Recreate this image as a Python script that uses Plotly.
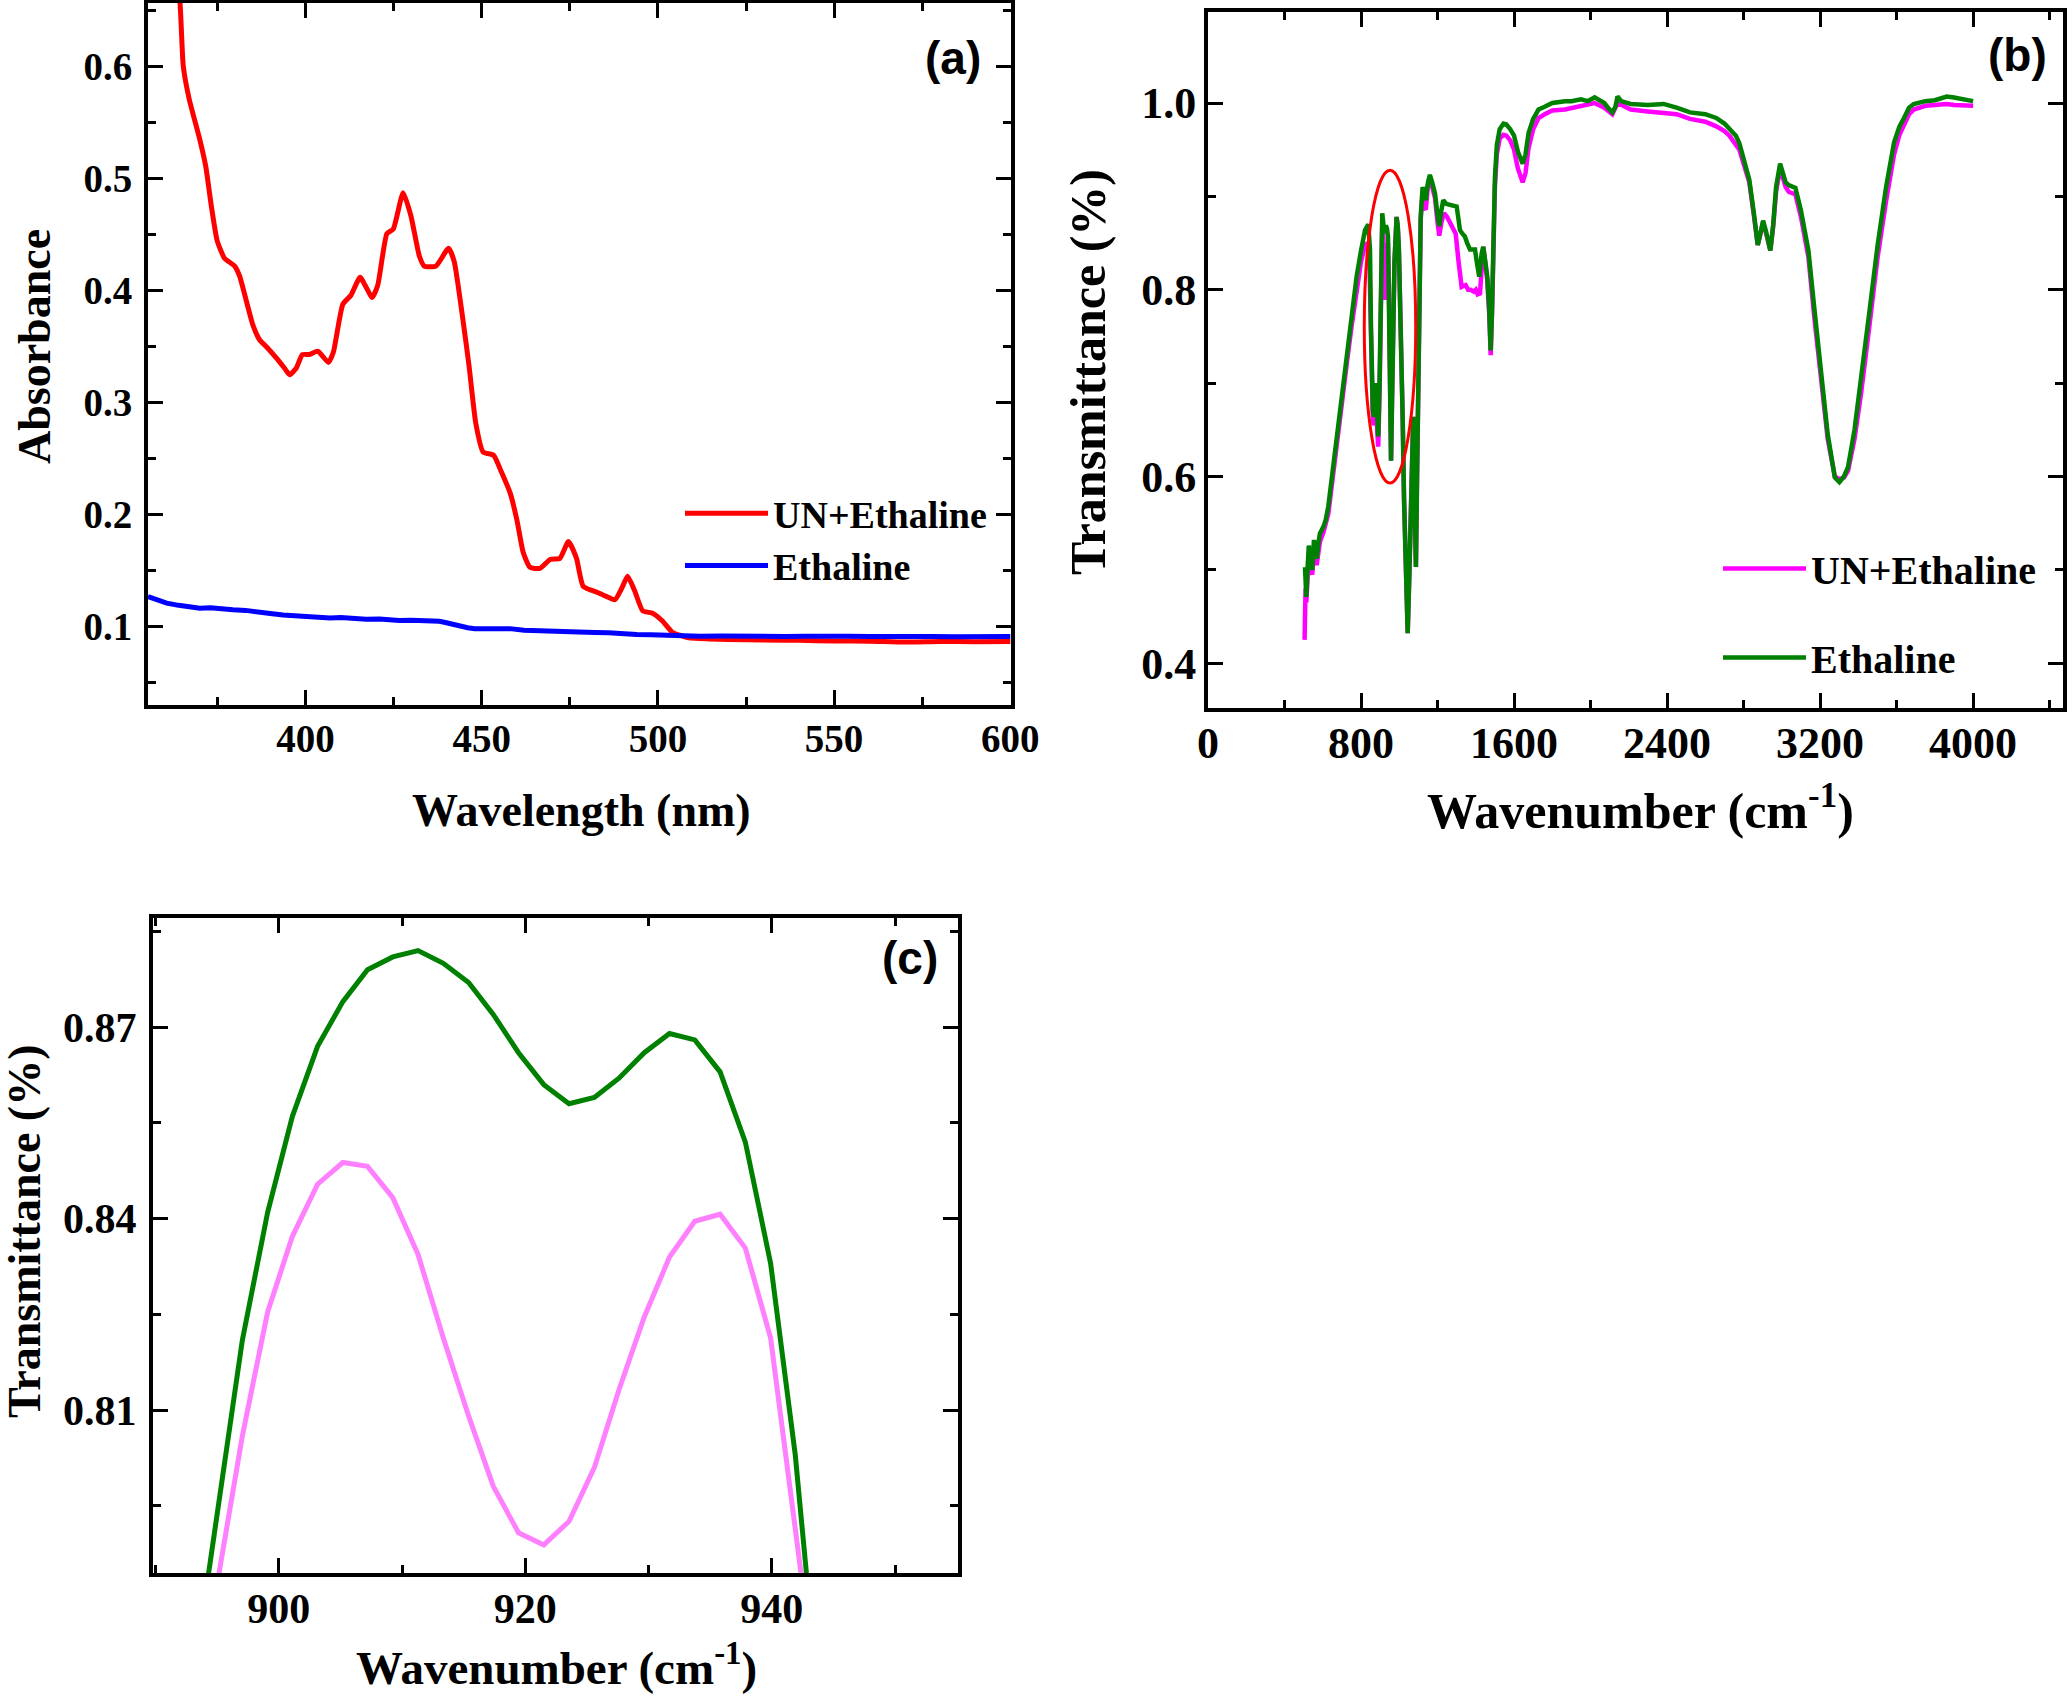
import plotly.graph_objects as go

# ---------------- Panel (a): UV-Vis absorbance ----------------
wl_un = [356, 360, 364.3, 365.3, 367.0, 370.0, 371.7, 373.3, 374.9, 377.0, 379.9, 381.3, 383.2,
         385.1, 387.0, 388.9, 391.7, 394.0, 395.5, 397.4, 399.1, 401.1, 403.5, 406.5, 407.9,
         410.6, 412.9, 415.5, 418.9, 420.5, 423.1, 424.9, 427.7, 429.9, 432.3, 433.7, 437.0,
         440.6, 442.2, 444.5, 446.4, 448.3, 450.4, 453.4, 455.6, 458.1, 460.0, 461.8, 463.7,
         466.5, 469.4, 472.2, 474.6, 476.9, 478.8, 482.5, 485.3, 487.8, 489.7, 491.4, 493.4,
         495.7, 498.5, 501.3, 504.1, 508.8, 514.5, 520, 530, 540, 550, 560, 570, 580, 590, 600]
abs_un = [0.88, 0.76, 0.661, 0.601, 0.571, 0.535, 0.511, 0.475, 0.445, 0.429, 0.422, 0.413, 0.391,
          0.369, 0.356, 0.350, 0.340, 0.331, 0.325, 0.331, 0.343, 0.343, 0.346, 0.336, 0.345,
          0.388, 0.396, 0.412, 0.394, 0.405, 0.451, 0.455, 0.4875, 0.467, 0.431, 0.422, 0.422,
          0.438, 0.426, 0.378, 0.333, 0.282, 0.256, 0.253, 0.238, 0.219, 0.195, 0.166, 0.153,
          0.152, 0.160, 0.161, 0.176, 0.161, 0.136, 0.131, 0.127, 0.124, 0.134, 0.145, 0.132,
          0.114, 0.112, 0.105, 0.095, 0.090, 0.089, 0.0885, 0.088, 0.0878, 0.0872, 0.087, 0.0862,
          0.0868, 0.0866, 0.0868]

wl_eth = [355.3, 358, 360.6, 364, 367, 370, 373, 376, 379.4, 383, 386, 390, 393.6, 397, 400,
          403, 407, 410, 413, 417.2, 421, 424, 426.6, 430, 433, 436, 438, 440, 442, 444, 446,
          448, 451, 455, 458, 462, 466, 470, 474, 478, 482, 486, 490, 494, 498, 502, 506, 512,
          518, 524, 530, 536, 542, 548, 554, 560, 566, 572, 578, 584, 590, 595, 600]
abs_eth = [0.1268, 0.1235, 0.121, 0.119, 0.118, 0.1164, 0.1168, 0.1155, 0.115, 0.1145, 0.1138,
           0.1118, 0.1104, 0.1098, 0.1085, 0.1084, 0.1078, 0.1082, 0.1072, 0.1066, 0.1068,
           0.1060, 0.1054, 0.1058, 0.1052, 0.1055, 0.1048, 0.1035, 0.1018, 0.1000, 0.0990,
           0.0982, 0.0985, 0.0978, 0.0982, 0.0968, 0.0962, 0.0958, 0.0955, 0.0952, 0.0948,
           0.0945, 0.0935, 0.0930, 0.0928, 0.0922, 0.0918, 0.0915, 0.0917, 0.0913, 0.0916,
           0.0912, 0.0915, 0.0910, 0.0913, 0.0912, 0.0915, 0.0908, 0.0912, 0.0910, 0.0914,
           0.0911, 0.0912]

# ---------------- Panel (b): FTIR transmittance ----------------
wn_eth_b = [507, 510, 514, 520, 527, 537, 545, 554, 562, 568, 578, 585, 603, 615, 629, 645, 664,
            695, 725, 750, 777, 800, 821, 838, 847, 852, 856, 862, 868, 873, 878, 883, 890, 897,
            903, 911, 916, 922, 930, 936, 941, 946, 951, 957, 962, 966, 975, 986, 992, 998, 1005,
            1012, 1018, 1025, 1035, 1044, 1052, 1061, 1067, 1073, 1080, 1087, 1093, 1099, 1106,
            1112, 1122, 1130, 1138, 1150, 1160, 1172, 1187, 1200, 1209, 1220, 1230, 1245, 1261,
            1280, 1300, 1310, 1317, 1330, 1343, 1355, 1370, 1385, 1396, 1405, 1418, 1430, 1439,
            1450, 1460, 1470, 1478, 1485, 1492, 1500, 1510, 1525, 1545, 1560, 1580, 1600, 1620,
            1645, 1660, 1676, 1700, 1728, 1760, 1800, 1866, 1900, 1950, 1985, 2021, 2050, 2072,
            2095, 2114, 2130, 2141, 2160, 2210, 2300, 2382, 2450, 2520, 2600, 2657, 2700, 2726,
            2760, 2778, 2800, 2830, 2855, 2874, 2888, 2902, 2918, 2940, 2955, 2970, 2991, 3005,
            3020, 3036, 3071, 3100, 3139, 3170, 3208, 3240, 3277, 3301, 3325, 3346, 3380, 3415,
            3460, 3501, 3545, 3587, 3615, 3639, 3665, 3690, 3750, 3800, 3828, 3862, 3900, 3950,
            4000]
tr_eth_b = [0.503, 0.485, 0.471, 0.500, 0.526, 0.510, 0.500, 0.532, 0.520, 0.512, 0.530, 0.539,
            0.546, 0.553, 0.568, 0.595, 0.628, 0.683, 0.735, 0.775, 0.814, 0.842, 0.864, 0.870,
            0.843, 0.760, 0.700, 0.670, 0.664, 0.690, 0.700, 0.670, 0.643, 0.700, 0.820, 0.882,
            0.872, 0.861, 0.869, 0.865, 0.857, 0.800, 0.735, 0.617, 0.680, 0.735, 0.830, 0.878,
            0.868, 0.843, 0.790, 0.735, 0.660, 0.575, 0.480, 0.432, 0.490, 0.557, 0.620, 0.664,
            0.580, 0.503, 0.600, 0.700, 0.800, 0.878, 0.910, 0.903, 0.896, 0.915, 0.923, 0.915,
            0.903, 0.880, 0.868, 0.885, 0.896, 0.892, 0.891, 0.890, 0.889, 0.875, 0.864, 0.860,
            0.857, 0.850, 0.843, 0.843, 0.843, 0.830, 0.814, 0.838, 0.846, 0.830, 0.814, 0.780,
            0.735, 0.780, 0.850, 0.920, 0.955, 0.972, 0.978, 0.977, 0.972, 0.965, 0.948, 0.935,
            0.945, 0.968, 0.983, 0.993, 0.996, 1.000, 1.002, 1.002, 1.004, 1.002, 1.006, 1.003,
            1.000, 0.994, 0.990, 0.996, 1.007, 1.002, 0.999, 0.998, 0.999, 0.995, 0.990, 0.988,
            0.984, 0.978, 0.973, 0.965, 0.957, 0.940, 0.918, 0.880, 0.848, 0.860, 0.874, 0.862,
            0.842, 0.870, 0.910, 0.935, 0.925, 0.915, 0.912, 0.909, 0.885, 0.842, 0.780, 0.703,
            0.645, 0.599, 0.594, 0.600, 0.610, 0.650, 0.703, 0.780, 0.848, 0.910, 0.958, 0.975,
            0.984, 0.995, 0.999, 1.002, 1.003, 1.005, 1.007, 1.006, 1.004, 1.002]

wn_un_b = [505, 507, 510, 514, 520, 527, 537, 545, 554, 568, 585, 603, 629, 664, 695, 725, 750,
           777, 800, 821, 835, 845, 852, 856, 862, 868, 873, 878, 883, 890, 897, 903, 911, 916,
           922, 926, 930, 936, 941, 946, 951, 957, 962, 966, 975, 986, 992, 998, 1005, 1012, 1018,
           1025, 1035, 1044, 1052, 1061, 1067, 1073, 1080, 1087, 1093, 1099, 1106, 1112, 1122,
           1130, 1139, 1150, 1160, 1172, 1187, 1200, 1209, 1220, 1234, 1250, 1278, 1295, 1310,
           1326, 1347, 1360, 1373, 1390, 1400, 1410, 1422, 1432, 1439, 1450, 1460, 1470, 1478,
           1485, 1492, 1500, 1510, 1525, 1545, 1560, 1580, 1600, 1620, 1645, 1660, 1676, 1700,
           1728, 1760, 1800, 1866, 1950, 2021, 2072, 2114, 2141, 2210, 2300, 2382, 2450, 2520,
           2600, 2657, 2700, 2726, 2778, 2800, 2830, 2855, 2874, 2888, 2902, 2918, 2940, 2955,
           2970, 2991, 3005, 3020, 3036, 3071, 3100, 3139, 3170, 3208, 3240, 3277, 3301, 3325,
           3346, 3380, 3415, 3460, 3501, 3545, 3587, 3615, 3639, 3665, 3690, 3750, 3800, 3862,
           3900, 3950, 4000]
tr_un_b = [0.425, 0.440, 0.480, 0.465, 0.490, 0.515, 0.500, 0.495, 0.520, 0.505, 0.530, 0.540,
           0.560, 0.615, 0.668, 0.720, 0.760, 0.800, 0.830, 0.848, 0.850, 0.820, 0.750, 0.690,
           0.660, 0.655, 0.680, 0.690, 0.655, 0.632, 0.690, 0.810, 0.870, 0.860, 0.800, 0.789,
           0.810, 0.840, 0.850, 0.800, 0.735, 0.617, 0.680, 0.735, 0.830, 0.878, 0.868, 0.843,
           0.790, 0.735, 0.660, 0.575, 0.480, 0.432, 0.490, 0.557, 0.620, 0.664, 0.580, 0.503,
           0.600, 0.700, 0.800, 0.875, 0.905, 0.888, 0.886, 0.912, 0.920, 0.912, 0.898, 0.872,
           0.858, 0.872, 0.882, 0.878, 0.868, 0.860, 0.830, 0.803, 0.805, 0.800, 0.800, 0.798,
           0.800, 0.795, 0.796, 0.835, 0.846, 0.828, 0.810, 0.775, 0.730, 0.775, 0.845, 0.910,
           0.945, 0.962, 0.966, 0.965, 0.960, 0.950, 0.930, 0.915, 0.925, 0.952, 0.972, 0.984,
           0.988, 0.992, 0.993, 0.997, 1.000, 0.995, 0.988, 1.000, 0.993, 0.991, 0.990, 0.988,
           0.983, 0.980, 0.975, 0.970, 0.965, 0.950, 0.935, 0.915, 0.878, 0.848, 0.860, 0.872,
           0.860, 0.842, 0.868, 0.905, 0.930, 0.920, 0.910, 0.905, 0.902, 0.878, 0.835, 0.770,
           0.695, 0.640, 0.600, 0.597, 0.599, 0.606, 0.640, 0.690, 0.765, 0.835, 0.895, 0.945,
           0.966, 0.978, 0.988, 0.993, 0.997, 0.998, 0.999, 0.998, 0.998, 0.997]

# highlighted region (ellipse) in panel (b)
ellipse_x = [817, 1086]
ellipse_y = [0.593, 0.928]

# ---------------- Panel (c): zoom of 890-950 cm-1 ----------------
wn_c = [893.0, 895.0, 897.05, 899.1, 901.1, 903.15, 905.2, 907.2, 909.25, 911.3, 913.35, 915.4,
        917.4, 919.45, 921.5, 923.55, 925.6, 927.6, 929.65, 931.7, 933.75, 935.8, 937.85, 939.9,
        941.9, 944.0]
tr_eth_c = [0.767, 0.794, 0.821, 0.841, 0.856, 0.867, 0.874, 0.879, 0.881, 0.882, 0.880, 0.877,
            0.872, 0.866, 0.861, 0.858, 0.859, 0.862, 0.866, 0.869, 0.868, 0.863, 0.852, 0.833,
            0.803, 0.760]
tr_un_c = [0.760, 0.783, 0.806, 0.8254, 0.8372, 0.8454, 0.8488, 0.8482, 0.8433, 0.8344, 0.8213,
           0.8091, 0.7981, 0.7908, 0.7889, 0.7926, 0.8010, 0.8132, 0.8246, 0.8340, 0.8396,
           0.8407, 0.8354, 0.8213, 0.792, 0.760]

SERIF = "Liberation Serif"
SANS = "Liberation Sans"
W, H = 2072, 1696


def px(x):
    return x / W


def py(y):
    return 1 - y / H


fig = go.Figure()

fig.add_trace(go.Scatter(x=wl_un, y=abs_un, mode="lines", name="UN+Ethaline",
                         line=dict(color="#FF0000", width=5, shape="spline", smoothing=0.5),
                         xaxis="x", yaxis="y", legend="legend"))
fig.add_trace(go.Scatter(x=wl_eth, y=abs_eth, mode="lines", name="Ethaline",
                         line=dict(color="#0000FF", width=5),
                         xaxis="x", yaxis="y", legend="legend"))

fig.add_trace(go.Scatter(x=wn_un_b, y=tr_un_b, mode="lines", name="UN+Ethaline",
                         line=dict(color="#FF00FF", width=4.5),
                         xaxis="x2", yaxis="y2", legend="legend2", legendgroup="g1"))
fig.add_trace(go.Scatter(x=wn_eth_b, y=tr_eth_b, mode="lines", name="Ethaline",
                         line=dict(color="#008000", width=4.5),
                         xaxis="x2", yaxis="y2", legend="legend2", legendgroup="g2"))

fig.add_trace(go.Scatter(x=wn_c, y=tr_un_c, mode="lines", name="UN+Ethaline",
                         line=dict(color="#FF80FF", width=5),
                         xaxis="x3", yaxis="y3", showlegend=False))
fig.add_trace(go.Scatter(x=wn_c, y=tr_eth_c, mode="lines", name="Ethaline",
                         line=dict(color="#008000", width=5),
                         xaxis="x3", yaxis="y3", showlegend=False))

fig.add_shape(type="circle", xref="x2", yref="y2",
              x0=ellipse_x[0], x1=ellipse_x[1], y0=ellipse_y[0], y1=ellipse_y[1],
              line=dict(color="#FF0000", width=3))


def axis(domain, rng, dtick, minor_dtick, size, anchor, standoff, tick0=None, fmt=None):
    d = dict(domain=domain, range=rng, dtick=dtick, showgrid=False, zeroline=False,
             showline=True, linewidth=4, linecolor="black", mirror="allticks",
             ticks="inside", ticklen=15, tickwidth=3, tickcolor="black",
             tickfont=dict(family=SERIF, size=size, color="black", weight="bold"),
             minor=dict(ticks="inside", ticklen=8, tickwidth=3, tickcolor="black",
                        dtick=minor_dtick, showgrid=False),
             anchor=anchor, ticklabelstandoff=standoff, automargin=False, fixedrange=True)
    if tick0 is not None:
        d["tick0"] = tick0
    if fmt is not None:
        d["tickformat"] = fmt
    return d


layout = dict(
    width=W, height=H, autosize=False,
    margin=dict(l=0, r=0, t=0, b=0),
    plot_bgcolor="white", paper_bgcolor="white",
    xaxis=axis([px(148), px(1011)], [355.3, 600.2], 50, 25, 39, "y", -4, tick0=0),
    yaxis=axis([py(705), py(3)], [0.03, 0.657], 0.1, 0.05, 39, "x", 4, tick0=0, fmt=".1f"),
    xaxis2=axis([px(1208), px(2063)], [0, 4470], 800, 400, 44, "y2", -7, tick0=0),
    yaxis2=axis([py(708), py(12)], [0.352, 1.0975], 0.2, 0.1, 44, "x2", -1, tick0=0, fmt=".1f"),
    xaxis3=axis([px(153), px(958)], [889.8, 955.1], 20, 10, 42, "y3", -4, tick0=900),
    yaxis3=axis([py(1573), py(918)], [0.7845, 0.8871], 0.03, 0.015, 42, "x3", 4,
                tick0=0.81, fmt=".2f"),
    legend=dict(x=px(680), y=py(482), xanchor="left", yanchor="top",
                font=dict(family=SERIF, size=38, color="black", weight="bold"),
                itemwidth=83, bgcolor="rgba(0,0,0,0)", borderwidth=0, tracegroupgap=0),
    legend2=dict(x=px(1718), y=py(536), xanchor="left", yanchor="top",
                 font=dict(family=SERIF, size=40, color="black", weight="bold"),
                 itemwidth=83, bgcolor="rgba(0,0,0,0)", borderwidth=0, tracegroupgap=34),
    showlegend=True,
)
fig.update_layout(**layout)

title_font = lambda s: dict(family=SERIF, size=s, color="black", weight="bold")
annos = [
    dict(text="Wavelength (nm)", x=px(581), y=py(810), font=title_font(46), textangle=0),
    dict(text="Absorbance", x=px(34), y=py(347), font=title_font(46), textangle=-90),
    dict(text="Wavenumber (cm<sup>-1</sup>)", x=px(1640), y=py(808), font=title_font(50), textangle=0),
    dict(text="Transmittance (%)", x=px(1088), y=py(372), font=title_font(50), textangle=-90),
    dict(text="Wavenumber (cm<sup>-1</sup>)", x=px(556), y=py(1664), font=title_font(47), textangle=0),
    dict(text="Transmittance (%)", x=px(24), y=py(1232), font=title_font(46), textangle=-90),
    dict(text="(a)", x=px(953), y=py(58), font=dict(family=SANS, size=46, color="black", weight="bold")),
    dict(text="(b)", x=px(2017), y=py(55), font=dict(family=SANS, size=46, color="black", weight="bold")),
    dict(text="(c)", x=px(910), y=py(958), font=dict(family=SANS, size=46, color="black", weight="bold")),
]
for a in annos:
    a.update(xref="paper", yref="paper", xanchor="center", yanchor="middle", showarrow=False)
fig.update_layout(annotations=annos)

fig.write_html("out.html")
